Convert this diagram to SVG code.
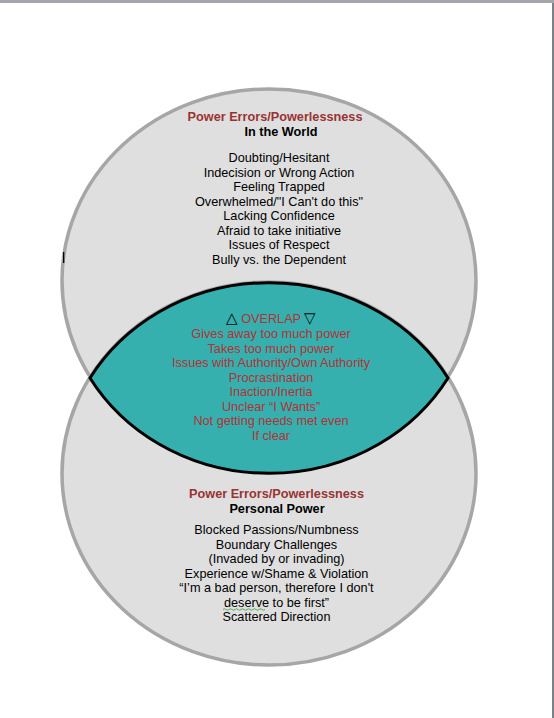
<svg xmlns="http://www.w3.org/2000/svg" width="554" height="718" viewBox="0 0 554 718">
<style>
text{font-family:"Liberation Sans",Arial,sans-serif;font-size:12.7px;text-anchor:middle}
.h{font-weight:bold;fill:#993333}
.b{font-weight:bold;fill:#000}
.t{fill:#000}
.o{fill:#b23236}
.tri{fill:#000;font-size:15px}
.circle{fill:#dfdfdf;stroke:#a6a6a6;stroke-width:3.5}
</style>
<rect x="0" y="0" width="554" height="718" fill="#fff"/>
<rect x="0" y="0" width="554" height="3" fill="#a3a6ad"/>
<rect x="552" y="3" width="2" height="715" fill="#7b8089"/>
<g id="world">
<ellipse class="circle" cx="269" cy="280.5" rx="207" ry="191.5"/>
</g>
<g id="personal">
<ellipse class="circle" cx="269" cy="473.5" rx="207" ry="191.5"/>
</g>
<g id="overlap">
<path d="M90 378 A207 191.5 0 0 1 448 378 A207 191.5 0 0 1 90 378 Z" fill="#36b0ae" stroke="#000" stroke-width="3"/>
</g>
<rect x="63" y="252" width="1.3" height="11" fill="#000"/>
<g id="world-text">
<text class="h" x="275" y="121">Power Errors/Powerlessness</text>
<text class="b" x="281" y="136">In the World</text>
<text class="t" x="279" y="162">Doubting/Hesitant</text>
<text class="t" x="279" y="176.5">Indecision or Wrong Action</text>
<text class="t" x="279" y="191">Feeling Trapped</text>
<text class="t" x="279" y="205.5">Overwhelmed/"I Can't do this"</text>
<text class="t" x="279" y="220">Lacking Confidence</text>
<text class="t" x="279" y="234.5">Afraid to take initiative</text>
<text class="t" x="279" y="249">Issues of Respect</text>
<text class="t" x="279" y="263.5">Bully vs. the Dependent</text>
</g>
<g id="overlap-text">
<text class="o" x="271" y="323"><tspan class="tri">△</tspan> OVERLAP <tspan class="tri">▽</tspan></text>
<text class="o" x="271" y="338">Gives away too much power</text>
<text class="o" x="271" y="352.5">Takes too much power</text>
<text class="o" x="271" y="367">Issues with Authority/Own Authority</text>
<text class="o" x="271" y="381.5">Procrastination</text>
<text class="o" x="271" y="396">Inaction/Inertia</text>
<text class="o" x="271" y="410.5">Unclear “I Wants”</text>
<text class="o" x="271" y="425">Not getting needs met even</text>
<text class="o" x="271" y="439.5">If clear</text>
</g>
<g id="personal-text">
<text class="h" x="276.5" y="498">Power Errors/Powerlessness</text>
<text class="b" x="277" y="513">Personal Power</text>
<text class="t" x="276.5" y="534">Blocked Passions/Numbness</text>
<text class="t" x="276.5" y="548.5">Boundary Challenges</text>
<text class="t" x="276.5" y="563">(Invaded by or invading)</text>
<text class="t" x="276.5" y="577.5">Experience w/Shame &amp; Violation</text>
<text class="t" x="276.5" y="592">“I’m a bad person, therefore I don't</text>
<text class="t" x="276.5" y="606.5">deserve to be first”</text>
<text class="t" x="276.5" y="621">Scattered Direction</text>
<path d="M223 609.5 q1.5 -1.5 3 0 t3 0 t3 0 t3 0 t3 0 t3 0 t3 0 t3 0 t3 0 t3 0 t3 0 t3 0 t3 0 t3 0" fill="none" stroke="#3a9a3a" stroke-width="0.8"/>
</g>
</svg>
